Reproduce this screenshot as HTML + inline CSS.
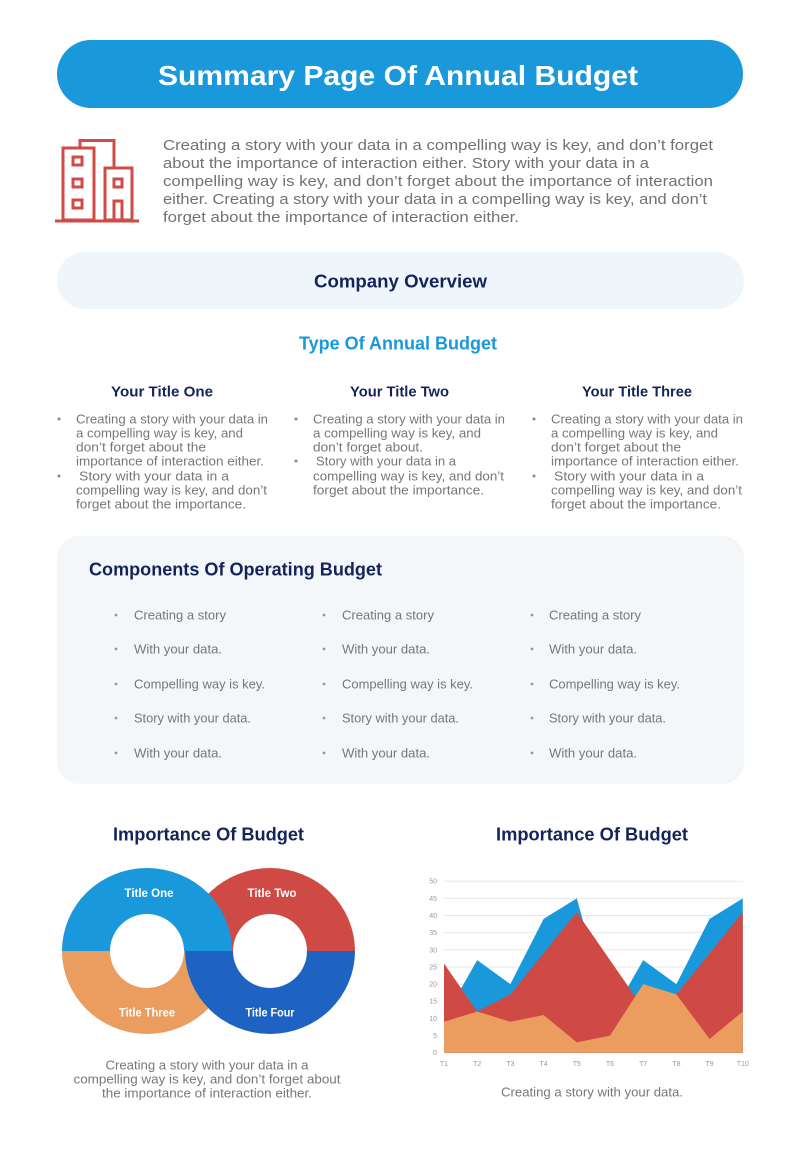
<!DOCTYPE html>
<html><head><meta charset="utf-8"><style>
html,body{margin:0;padding:0;background:#fff;}
svg{display:block;}
text{font-family:"Liberation Sans","DejaVu Sans",sans-serif;}
.g{fill:#777;font-size:13px;}
.p{fill:#727272;font-size:15px;}
.n{fill:#14245a;font-weight:bold;}
.ax{fill:#999;font-size:7px;}
</style></head><body>
<svg width="800" height="1156" viewBox="0 0 800 1156" xmlns="http://www.w3.org/2000/svg">
<rect x="0" y="0" width="800" height="1156" fill="#fff"/>
<!-- header -->
<rect x="57" y="40" width="686" height="68" rx="34" fill="#1a98dc"/>
<text x="158" y="85" fill="#fff" font-size="28" font-weight="bold" textLength="480" lengthAdjust="spacingAndGlyphs">Summary Page Of Annual Budget</text>
<!-- icon -->
<g fill="none" stroke="#d04b46" stroke-width="3">
<rect x="63" y="148" width="31" height="72"/>
<path d="M80 148 V140.5 H114 V168"/>
<rect x="105" y="168" width="27" height="52"/>
<rect x="73" y="157" width="9" height="8"/>
<rect x="73" y="179" width="9" height="8"/>
<rect x="73" y="200" width="9" height="8"/>
<rect x="114" y="179" width="8" height="8"/>
<path d="M114 220 V201 H122 V220"/>
<path d="M55 221 H139"/>
</g>
<!-- paragraph -->
<text class="p" x="163" y="150" textLength="550" lengthAdjust="spacingAndGlyphs">Creating a story with your data in a compelling way is key, and don’t forget</text>
<text class="p" x="163" y="168" textLength="486" lengthAdjust="spacingAndGlyphs">about the importance of interaction either. Story with your data in a</text>
<text class="p" x="163" y="186" textLength="550" lengthAdjust="spacingAndGlyphs">compelling way is key, and don’t forget about the importance of interaction</text>
<text class="p" x="163" y="204" textLength="544" lengthAdjust="spacingAndGlyphs">either. Creating a story with your data in a compelling way is key, and don’t</text>
<text class="p" x="163" y="222" textLength="356" lengthAdjust="spacingAndGlyphs">forget about the importance of interaction either.</text>
<!-- company overview -->
<rect x="57" y="252" width="687" height="57" rx="28" fill="#eef6fc"/>
<text class="n" x="314" y="287.5" font-size="18" textLength="173" lengthAdjust="spacingAndGlyphs">Company Overview</text>
<text x="299" y="349.5" font-size="18" font-weight="bold" fill="#1a98dc" textLength="198" lengthAdjust="spacingAndGlyphs">Type Of Annual Budget</text>
<!-- column titles -->
<text class="n" x="111" y="396.5" font-size="15" textLength="102" lengthAdjust="spacingAndGlyphs">Your Title One</text>
<text class="n" x="350" y="396.5" font-size="15" textLength="99" lengthAdjust="spacingAndGlyphs">Your Title Two</text>
<text class="n" x="582" y="396.5" font-size="15" textLength="110" lengthAdjust="spacingAndGlyphs">Your Title Three</text>
<!-- col 1 -->
<g fill="#888"><circle cx="59" cy="419" r="1.5"/><circle cx="59" cy="476" r="1.5"/><circle cx="296" cy="419" r="1.5"/><circle cx="296" cy="461" r="1.5"/><circle cx="534" cy="419" r="1.5"/><circle cx="534" cy="476" r="1.5"/></g>
<text class="g" x="76" y="423.5" textLength="192" lengthAdjust="spacingAndGlyphs">Creating a story with your data in</text>
<text class="g" x="76" y="437.5" textLength="167" lengthAdjust="spacingAndGlyphs">a compelling way is key, and</text>
<text class="g" x="76" y="451.5" textLength="130" lengthAdjust="spacingAndGlyphs">don’t forget about the</text>
<text class="g" x="76" y="465.5" textLength="188" lengthAdjust="spacingAndGlyphs">importance of interaction either.</text>
<text class="g" x="79" y="480.5" textLength="150" lengthAdjust="spacingAndGlyphs">Story with your data in a</text>
<text class="g" x="76" y="494.5" textLength="191" lengthAdjust="spacingAndGlyphs">compelling way is key, and don’t</text>
<text class="g" x="76" y="508.5" textLength="170" lengthAdjust="spacingAndGlyphs">forget about the importance.</text>
<!-- col 2 -->
<text class="g" x="313" y="423.5" textLength="192" lengthAdjust="spacingAndGlyphs">Creating a story with your data in</text>
<text class="g" x="313" y="437.5" textLength="168" lengthAdjust="spacingAndGlyphs">a compelling way is key, and</text>
<text class="g" x="313" y="451.5" textLength="110" lengthAdjust="spacingAndGlyphs">don’t forget about.</text>
<text class="g" x="316" y="465.5" textLength="140" lengthAdjust="spacingAndGlyphs">Story with your data in a</text>
<text class="g" x="313" y="480.5" textLength="191" lengthAdjust="spacingAndGlyphs">compelling way is key, and don’t</text>
<text class="g" x="313" y="494.5" textLength="171" lengthAdjust="spacingAndGlyphs">forget about the importance.</text>
<!-- col 3 -->
<text class="g" x="551" y="423.5" textLength="192" lengthAdjust="spacingAndGlyphs">Creating a story with your data in</text>
<text class="g" x="551" y="437.5" textLength="167" lengthAdjust="spacingAndGlyphs">a compelling way is key, and</text>
<text class="g" x="551" y="451.5" textLength="130" lengthAdjust="spacingAndGlyphs">don’t forget about the</text>
<text class="g" x="551" y="465.5" textLength="188" lengthAdjust="spacingAndGlyphs">importance of interaction either.</text>
<text class="g" x="554" y="480.5" textLength="150" lengthAdjust="spacingAndGlyphs">Story with your data in a</text>
<text class="g" x="551" y="494.5" textLength="191" lengthAdjust="spacingAndGlyphs">compelling way is key, and don’t</text>
<text class="g" x="551" y="508.5" textLength="170" lengthAdjust="spacingAndGlyphs">forget about the importance.</text>
<!-- components -->
<rect x="57" y="536" width="687" height="248" rx="22" fill="#f3f7fa"/>
<text class="n" x="89" y="575.5" font-size="18" textLength="293" lengthAdjust="spacingAndGlyphs">Components Of Operating Budget</text>
<g fill="#999">
<circle cx="116" cy="615" r="1.4"/><circle cx="116" cy="649" r="1.4"/><circle cx="116" cy="684" r="1.4"/><circle cx="116" cy="718" r="1.4"/><circle cx="116" cy="753" r="1.4"/>
<circle cx="324" cy="615" r="1.4"/><circle cx="324" cy="649" r="1.4"/><circle cx="324" cy="684" r="1.4"/><circle cx="324" cy="718" r="1.4"/><circle cx="324" cy="753" r="1.4"/>
<circle cx="532" cy="615" r="1.4"/><circle cx="532" cy="649" r="1.4"/><circle cx="532" cy="684" r="1.4"/><circle cx="532" cy="718" r="1.4"/><circle cx="532" cy="753" r="1.4"/>
</g>
<g class="g">
<text class="g" x="134" y="619.5" textLength="92" lengthAdjust="spacingAndGlyphs">Creating a story</text>
<text class="g" x="134" y="653.5" textLength="88" lengthAdjust="spacingAndGlyphs">With your data.</text>
<text class="g" x="134" y="688.5" textLength="131" lengthAdjust="spacingAndGlyphs">Compelling way is key.</text>
<text class="g" x="134" y="722.5" textLength="117" lengthAdjust="spacingAndGlyphs">Story with your data.</text>
<text class="g" x="134" y="757.5" textLength="88" lengthAdjust="spacingAndGlyphs">With your data.</text>
<text class="g" x="342" y="619.5" textLength="92" lengthAdjust="spacingAndGlyphs">Creating a story</text>
<text class="g" x="342" y="653.5" textLength="88" lengthAdjust="spacingAndGlyphs">With your data.</text>
<text class="g" x="342" y="688.5" textLength="131" lengthAdjust="spacingAndGlyphs">Compelling way is key.</text>
<text class="g" x="342" y="722.5" textLength="117" lengthAdjust="spacingAndGlyphs">Story with your data.</text>
<text class="g" x="342" y="757.5" textLength="88" lengthAdjust="spacingAndGlyphs">With your data.</text>
<text class="g" x="549" y="619.5" textLength="92" lengthAdjust="spacingAndGlyphs">Creating a story</text>
<text class="g" x="549" y="653.5" textLength="88" lengthAdjust="spacingAndGlyphs">With your data.</text>
<text class="g" x="549" y="688.5" textLength="131" lengthAdjust="spacingAndGlyphs">Compelling way is key.</text>
<text class="g" x="549" y="722.5" textLength="117" lengthAdjust="spacingAndGlyphs">Story with your data.</text>
<text class="g" x="549" y="757.5" textLength="88" lengthAdjust="spacingAndGlyphs">With your data.</text>
</g>
<!-- bottom titles -->
<text class="n" x="113" y="840.5" font-size="18" textLength="191" lengthAdjust="spacingAndGlyphs">Importance Of Budget</text>
<text class="n" x="496" y="840.5" font-size="18" textLength="192" lengthAdjust="spacingAndGlyphs">Importance Of Budget</text>
<!-- donut -->
<path d="M185 951 A85 83 0 0 1 355 951 L307 951 A37 37 0 0 0 233 951 Z" fill="#cf4a45"/>
<path d="M62 951 A85 83 0 0 0 232 951 L184 951 A37 37 0 0 1 110 951 Z" fill="#eb9c5f"/>
<path d="M62 951 A85 83 0 0 1 232 951 L184 951 A37 37 0 0 0 110 951 Z" fill="#1a98dc"/>
<path d="M185 951 A85 83 0 0 0 355 951 L307 951 A37 37 0 0 1 233 951 Z" fill="#1e63c2"/>
<g fill="#fff" font-size="12" font-weight="bold" text-anchor="middle">
<text x="149" y="897" textLength="49" lengthAdjust="spacingAndGlyphs">Title One</text>
<text x="272" y="897" textLength="49" lengthAdjust="spacingAndGlyphs">Title Two</text>
<text x="147" y="1016.5" textLength="56" lengthAdjust="spacingAndGlyphs">Title Three</text>
<text x="270" y="1016.5" textLength="49" lengthAdjust="spacingAndGlyphs">Title Four</text>
</g>
<g class="g" text-anchor="middle" font-size="12.5">
<text class="g" x="207" y="1069.5" font-size="12.5" textLength="203" lengthAdjust="spacingAndGlyphs">Creating a story with your data in a</text>
<text class="g" x="207" y="1083.5" font-size="12.5" textLength="267" lengthAdjust="spacingAndGlyphs">compelling way is key, and don’t forget about</text>
<text class="g" x="207" y="1097.5" font-size="12.5" textLength="210" lengthAdjust="spacingAndGlyphs">the importance of interaction either.</text>
<text class="g" x="592" y="1096.5" font-size="12.5" textLength="182" lengthAdjust="spacingAndGlyphs">Creating a story with your data.</text>
</g>
<!-- chart -->
<g stroke="#e8e8e8" stroke-width="1">
<line x1="444" y1="1052.7" x2="743" y2="1052.7"/>
<line x1="444" y1="1035.55" x2="743" y2="1035.55"/>
<line x1="444" y1="1018.4" x2="743" y2="1018.4"/>
<line x1="444" y1="1001.25" x2="743" y2="1001.25"/>
<line x1="444" y1="984.1" x2="743" y2="984.1"/>
<line x1="444" y1="966.95" x2="743" y2="966.95"/>
<line x1="444" y1="949.8" x2="743" y2="949.8"/>
<line x1="444" y1="932.65" x2="743" y2="932.65"/>
<line x1="444" y1="915.5" x2="743" y2="915.5"/>
<line x1="444" y1="898.35" x2="743" y2="898.35"/>
<line x1="444" y1="881.2" x2="743" y2="881.2"/>
</g>
<g class="ax" text-anchor="end">
<text class="ax" x="437" y="1055.2">0</text>
<text class="ax" x="437" y="1038">5</text>
<text class="ax" x="437" y="1020.9">10</text>
<text class="ax" x="437" y="1003.7">15</text>
<text class="ax" x="437" y="986.6">20</text>
<text class="ax" x="437" y="969.4">25</text>
<text class="ax" x="437" y="952.3">30</text>
<text class="ax" x="437" y="935.1">35</text>
<text class="ax" x="437" y="918">40</text>
<text class="ax" x="437" y="900.8">45</text>
<text class="ax" x="437" y="883.7">50</text>
</g>
<g class="ax" text-anchor="middle">
<text class="ax" x="444" y="1066">T1</text>
<text class="ax" x="477.2" y="1066">T2</text>
<text class="ax" x="510.4" y="1066">T3</text>
<text class="ax" x="543.6" y="1066">T4</text>
<text class="ax" x="576.8" y="1066">T5</text>
<text class="ax" x="610" y="1066">T6</text>
<text class="ax" x="643.2" y="1066">T7</text>
<text class="ax" x="676.4" y="1066">T8</text>
<text class="ax" x="709.6" y="1066">T9</text>
<text class="ax" x="742.8" y="1066">T10</text>
</g>
<polygon fill="#1a98dc" points="444,1052.7 444,1018.4 477.2,960.1 510.4,984.1 543.6,918.9 576.8,898.35 610,1018.4 643.2,960.1 676.4,984.1 709.6,918.9 742.8,898.35 742.8,1052.7"/>
<polygon fill="#cf4a45" points="444,1052.7 444,963.5 477.2,1011.5 510.4,994.4 543.6,953.2 576.8,912.1 610,960.1 643.2,1008.1 676.4,994.4 709.6,953.2 742.8,912.1 742.8,1052.7"/>
<polygon fill="#eb9c5f" points="444,1052.7 444,1021.8 477.2,1011.5 510.4,1021.8 543.6,1015 576.8,1042.4 610,1035.6 643.2,984.1 676.4,994.4 709.6,1039 742.8,1011.5 742.8,1052.7"/>
</svg>
</body></html>
